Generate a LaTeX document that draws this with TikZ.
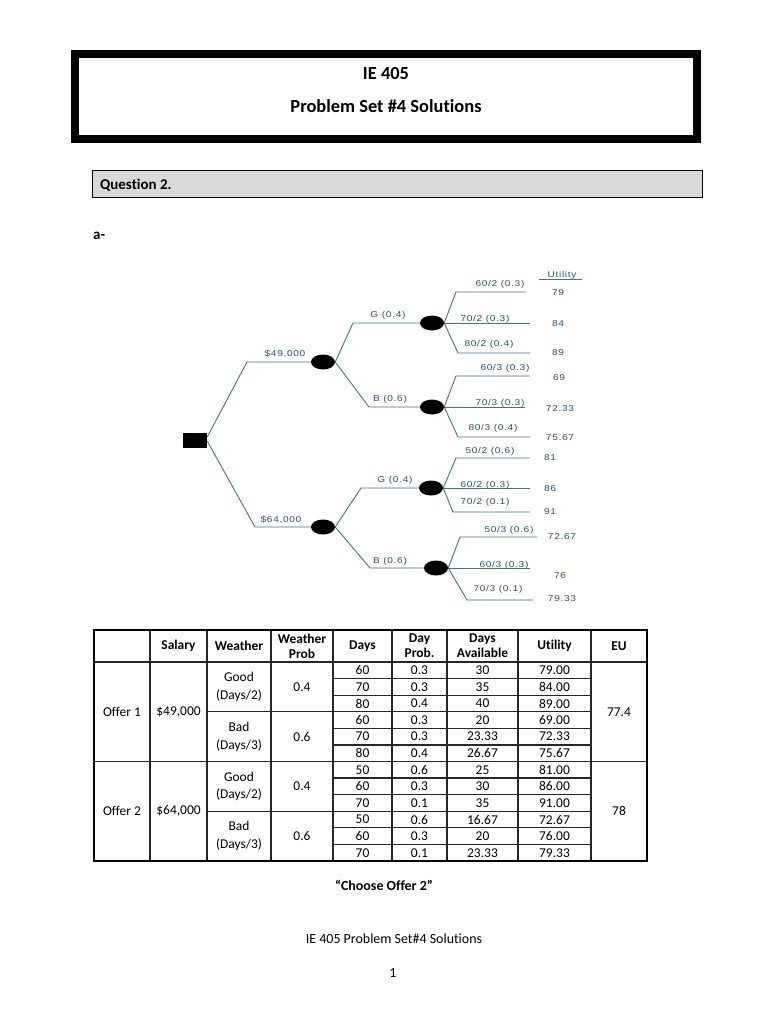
\documentclass[tikz,border=0pt]{standalone}
\usepackage{fontspec}
\setmainfont{Carlito}[Ligatures=NoCommon]
\newfontfamily\treefont[LetterSpace=8,FakeStretch=1.2]{Liberation Sans}
\usetikzlibrary{shapes.geometric}
\definecolor{treeline}{RGB}{60,115,145}
\definecolor{treetext}{RGB}{40,78,130}
\definecolor{qgray}{RGB}{217,217,217}
\begin{document}
\begin{tikzpicture}[x=1bp,y=-1bp,
  branch/.style={draw=treeline,line width=0.9bp},
  chance/.style={ellipse,fill=black,minimum width=24bp,minimum height=15bp,inner sep=0},
  decision/.style={rectangle,fill=black,minimum width=24bp,minimum height=15bp,inner sep=0},
  tlbl/.style={text=treetext,font=\treefont\fontsize{8.5}{10}\selectfont,inner sep=0},
  hdr/.style={font=\bfseries\fontsize{18.5}{20}\selectfont,inner sep=0},
  qhdr/.style={font=\bfseries\fontsize{15}{17}\selectfont,inner sep=0},
  th/.style={font=\bfseries\fontsize{13.5}{15}\selectfont,inner sep=0,align=center},
  td/.style={font=\fontsize{13.5}{18}\selectfont,inner sep=0,align=center},
  gridline/.style={draw=black!85,line width=1.2bp},
  note/.style={font=\fontsize{14}{16}\selectfont,inner sep=0}]
\useasboundingbox (0,0) rectangle (768,1024);
\fill[white] (0,0) rectangle (768,1024);

% ---------- page header ----------
\draw[line width=8bp] (75,54) rectangle (697,139);
\node[hdr] (title1) at (386,74) {IE 405};
\node[hdr] (title2) at (386,106) {Problem Set \#4 Solutions};
\draw[fill=qgray,line width=1bp] (92,170) rectangle (702,197);
\node[qhdr,anchor=west] (q2) at (100,185) {Question 2.};
\node[qhdr,anchor=west] (parta) at (93,236) {a-};

% ---------- decision tree ----------
\node[decision] (root) at (195,440) {};
\node[chance] (c1) at (323,362) {};
\node[chance] (c2) at (323,527) {};
\node[chance] (g1) at (432,323) {};
\node[chance] (b1) at (432,407) {};
\node[chance] (g2) at (431,488) {};
\node[chance] (b2) at (436,568) {};

\coordinate (k1) at (247,362);
\coordinate (k2) at (255,527);
\coordinate (k3) at (353,323);
\coordinate (k4) at (369,407);
\coordinate (k5) at (361,488);
\coordinate (k6) at (370,568);

\draw[branch] ([yshift=3bp]root.east) -- (k1) -- (c1.west);
\draw[branch] ([yshift=-1bp]root.east) -- (k2) -- (c2.west);
\draw[branch] (c1.east) -- (k3) -- (g1.west);
\draw[branch] (c1.east) -- (k4) -- (b1.west);
\draw[branch] (c2.east) -- (k5) -- (g2.west);
\draw[branch] (c2.east) -- (k6) -- (b2.west);

% leaves of g1
\coordinate (l1a) at (456,292); \coordinate (e1a) at (526,292);
\coordinate (e1b) at (530,323);
\coordinate (l1c) at (458,353); \coordinate (e1c) at (530,353);
\draw[branch] (g1.east) -- (l1a) -- (e1a);
\draw[branch] (g1.east) -- (e1b);
\draw[branch] (g1.east) -- (l1c) -- (e1c);
% leaves of b1
\coordinate (l2a) at (456,376); \coordinate (e2a) at (530,376);
\coordinate (e2b) at (525,407);
\coordinate (l2c) at (458,437); \coordinate (e2c) at (530,437);
\draw[branch] (b1.east) -- (l2a) -- (e2a);
\draw[branch] (b1.east) -- (e2b);
\draw[branch] (b1.east) -- (l2c) -- (e2c);
% leaves of g2
\coordinate (l3a) at (456,458); \coordinate (e3a) at (530,458);
\coordinate (e3b) at (530,488);
\coordinate (l3c) at (453,512); \coordinate (e3c) at (530,512);
\draw[branch] (g2.east) -- (l3a) -- (e3a);
\draw[branch] (g2.east) -- (e3b);
\draw[branch] (g2.east) -- (l3c) -- (e3c);
% leaves of b2
\coordinate (l4a) at (460,537); \coordinate (e4a) at (537,537);
\coordinate (e4b) at (530,568);
\coordinate (l4c) at (467,600); \coordinate (e4c) at (533,600);
\draw[branch] (b2.east) -- (l4a) -- (e4a);
\draw[branch] (b2.east) -- (e4b);
\draw[branch] (b2.east) -- (l4c) -- (e4c);

% branch labels
\node[tlbl] (s1) at (285,354) {\$49,000};
\node[tlbl] (s2) at (281,520) {\$64,000};
\node[tlbl] (wg1) at (388,315) {G (0.4)};
\node[tlbl] (wb1) at (390,399) {B (0.6)};
\node[tlbl] (wg2) at (395,480) {G (0.4)};
\node[tlbl] (wb2) at (390,561) {B (0.6)};
\node[tlbl] (d1a) at (500,284) {60/2 (0.3)};
\node[tlbl] (d1b) at (485,319) {70/2 (0.3)};
\node[tlbl] (d1c) at (489,344) {80/2 (0.4)};
\node[tlbl] (d2a) at (505,368) {60/3 (0.3)};
\node[tlbl] (d2b) at (500,403) {70/3 (0.3)};
\node[tlbl] (d2c) at (493,428) {80/3 (0.4)};
\node[tlbl] (d3a) at (490,451) {50/2 (0.6)};
\node[tlbl] (d3b) at (485,485) {60/2 (0.3)};
\node[tlbl] (d3c) at (485,502) {70/2 (0.1)};
\node[tlbl] (d4a) at (509,530) {50/3 (0.6)};
\node[tlbl] (d4b) at (504,565) {60/3 (0.3)};
\node[tlbl] (d4c) at (498,589) {70/3 (0.1)};

% utilities
\node[tlbl] (uhead) at (562,275) {Utility};
\draw[treeline,line width=0.8bp] (539,279) -- (582,279);
\node[tlbl] (u1) at (558,293) {79};
\node[tlbl] (u2) at (558,324) {84};
\node[tlbl] (u3) at (558,353) {89};
\node[tlbl] (u4) at (559,378) {69};
\node[tlbl] (u5) at (560,409) {72.33};
\node[tlbl] (u6) at (560,438) {75.67};
\node[tlbl] (u7) at (550,458) {81};
\node[tlbl] (u8) at (550,489) {86};
\node[tlbl] (u9) at (550,512) {91};
\node[tlbl] (u10) at (562,537) {72.67};
\node[tlbl] (u11) at (560,576) {76};
\node[tlbl] (u12) at (562,599) {79.33};

% ---------- table ----------
\foreach \x in {150,207,271,333,392,447,518,591}
  \draw[gridline] (\x,630) -- (\x,861);
\draw[gridline] (94,662) -- (647,662);
\draw[gridline] (94,761.5) -- (647,761.5);
\draw[gridline] (207,711.75) -- (591,711.75);
\draw[gridline] (207,811.25) -- (591,811.25);
\foreach \k in {1,2,4,5,7,8,10,11}
  \draw[gridline] (333,{662+16.583*\k}) -- (591,{662+16.583*\k});
\draw[line width=1.8bp] (94,630) rectangle (647,861);

\node[th] (hsal) at (178.5,646) {Salary};
\node[th] (hwea) at (239,646) {Weather};
\node[th] (hwp) at (302,646) {Weather\\Prob};
\node[th] (hday) at (362.5,646) {Days};
\node[th] (hdp) at (419.5,646) {Day\\Prob.};
\node[th] (hav) at (482.5,646) {Days\\Available};
\node[th] (hut) at (554.5,646) {Utility};
\node[th] (heu) at (619,646) {EU};

\node[td] (of1) at (122,711.75) {Offer 1};
\node[td] (sa1) at (178.5,711.75) {\$49,000};
\node[td] (gw1) at (239,686.9) {Good\\(Days/2)};
\node[td] (gp1) at (302,686.9) {0.4};
\node[td] (bw1) at (239,736.6) {Bad\\(Days/3)};
\node[td] (bp1) at (302,736.6) {0.6};
\node[td] (eu1) at (619,711.75) {77.4};
\node[td] (of2) at (122,811.25) {Offer 2};
\node[td] (sa2) at (178.5,811.25) {\$64,000};
\node[td] (gw2) at (239,786.4) {Good\\(Days/2)};
\node[td] (gp2) at (302,786.4) {0.4};
\node[td] (bw2) at (239,836.1) {Bad\\(Days/3)};
\node[td] (bp2) at (302,836.1) {0.6};
\node[td] (eu2) at (619,811.25) {78};

\foreach \d/\p/\a/\u [count=\k] in {
  60/0.3/30/79.00, 70/0.3/35/84.00, 80/0.4/40/89.00,
  60/0.3/20/69.00, 70/0.3/23.33/72.33, 80/0.4/26.67/75.67,
  50/0.6/25/81.00, 60/0.3/30/86.00, 70/0.1/35/91.00,
  50/0.6/16.67/72.67, 60/0.3/20/76.00, 70/0.1/23.33/79.33}
{
  \node[td] (rd\k) at (362.5,{662+16.583*(\k-0.5)}) {\d};
  \node[td] (rp\k) at (419.5,{662+16.583*(\k-0.5)}) {\p};
  \node[td] (ra\k) at (482.5,{662+16.583*(\k-0.5)}) {\a};
  \node[td] (ru\k) at (554.5,{662+16.583*(\k-0.5)}) {\u};
}

% ---------- footer texts ----------
\node[note,font=\bfseries\fontsize{14}{16}\selectfont] (choose) at (384,885) {“Choose Offer 2”};
\node[note] (foot) at (394,939) {IE 405 Problem Set\#4 Solutions};
\node[note] (page) at (393,973) {1};
\end{tikzpicture}
\end{document}
